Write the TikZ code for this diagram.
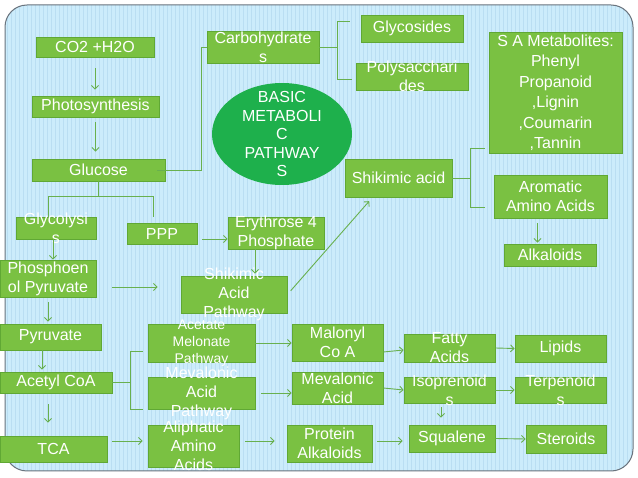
\documentclass[tikz,border=0pt]{standalone}
\usepackage{fontspec}
\setmainfont{Liberation Sans}
\usetikzlibrary{arrows.meta,shapes.geometric}

\definecolor{boxgreen}{RGB}{122,193,66}
\definecolor{boxedge}{RGB}{96,168,52}
\definecolor{ovalgreen}{RGB}{30,176,76}
\definecolor{linkgreen}{RGB}{104,176,78}
\definecolor{skyblue}{RGB}{204,236,251}
\definecolor{stripeblue}{RGB}{186,222,242}
\definecolor{rimgray}{RGB}{105,115,125}

\begin{document}
\begin{tikzpicture}[x=1pt,y=-1pt,
    box/.style={draw=boxedge,fill=boxgreen,line width=0.8pt,inner sep=0pt},
    lbl/.style={text=white,align=center,inner sep=0pt,font=\fontsize{16}{19}\selectfont},
    link/.style={draw=linkgreen,line width=0.9pt},
    arr/.style={link,-{Straight Barb[length=3.5pt,width=7pt]}}]
    \useasboundingbox (0,0) rectangle (638,478);
    \fill[white] (0,0) rectangle (638,478);
    \begin{scope}
        \clip[rounded corners=22pt] (5,5) rectangle (633,471);
        \fill[skyblue] (0,0) rectangle (638,478);
        \foreach \sx in {7,11,...,631}
            \draw[stripeblue,line width=1pt] (\sx,5) -- (\sx,471);
    \end{scope}
    \draw[rimgray,line width=1pt,rounded corners=22pt] (5,5) rectangle (633,471);
    %%
    \node[box,minimum width=118,minimum height=20,label={[lbl]center:CO2 +H2O}] (co2) at (95,47) {};
    \node[box,minimum width=127,minimum height=21,label={[lbl]center:Photosynthesis}] (photo) at (95.5,106.5) {};
    \node[box,minimum width=133,minimum height=22,label={[lbl]center:Glucose}] (glucose) at (98.5,170) {};
    \node[box,minimum width=112,minimum height=32,label={[lbl]center:Carbohydrate\\s}] (carb) at (263,47) {};
    \node[box,minimum width=102,minimum height=27,label={[lbl]center:Glycosides}] (glyco) at (412,28.5) {};
    \node[box,minimum width=112,minimum height=27,label={[lbl]center:Polysacchari\\des}] (poly) at (412,76.5) {};
    \node[ellipse,fill=ovalgreen,inner sep=0pt,minimum width=140,minimum height=102,
        label={[lbl,font=\fontsize{16}{18.5}\selectfont]center:BASIC\\METABOLI\\C\\PATHWAY\\S}] (basic) at (282,134) {};
    \node[box,minimum width=133,minimum height=121,
        label={[lbl,font=\fontsize{16}{20.5}\selectfont]center:S A Metabolites:\\Phenyl\\Propanoid\\,Lignin\\,Coumarin\\,Tannin}] (sam) at (555.5,92.5) {};
    \node[box,minimum width=107,minimum height=38,label={[lbl]center:Shikimic acid}] (shik) at (398.5,178) {};
    \node[box,minimum width=113,minimum height=43,label={[lbl]center:Aromatic\\Amino Acids}] (arom) at (550.5,196.5) {};
    \node[box,minimum width=92,minimum height=22,label={[lbl]center:Alkaloids}] (alka) at (550,255) {};
    %%
    \node[box,minimum width=80,minimum height=22,label={[lbl]center:Glycolysi\\s}] (glyc) at (56,228) {};
    \node[box,minimum width=70,minimum height=21,label={[lbl]center:PPP}] (ppp) at (162,233.5) {};
    \node[box,minimum width=96,minimum height=32,label={[lbl]center:Erythrose 4\\Phosphate}] (ery) at (276,233) {};
    \node[box,minimum width=96,minimum height=37,label={[lbl]center:Phosphoen\\ol Pyruvate}] (pep) at (48,278.5) {};
    \node[box,minimum width=106,minimum height=37,label={[lbl]center:Shikimic\\Acid\\Pathway}] (sap) at (234,294.5) {};
    \node[box,minimum width=101,minimum height=26,label={[lbl]center:Pyruvate}] (pyr) at (50.5,337) {};
    \node[box,minimum width=112,minimum height=21,label={[lbl]center:Acetyl CoA}] (acetyl) at (56,382.5) {};
    \node[box,minimum width=107,minimum height=26,label={[lbl]center:TCA}] (tca) at (53.5,449) {};
    %%
    \node[box,minimum width=107,minimum height=38,
        label={[lbl,font=\fontsize{14}{17}\selectfont]center:Acetate\\Melonate\\Pathway}] (amp) at (201.5,343) {};
    \node[box,minimum width=107,minimum height=32,label={[lbl]center:Mevalonic\\Acid\\Pathway}] (map) at (201.5,393) {};
    \node[box,minimum width=91,minimum height=42,label={[lbl]center:Aliphatic\\Amino\\Acids}] (aliph) at (193.5,446) {};
    \node[box,minimum width=91,minimum height=37,label={[lbl]center:Malonyl\\Co A}] (malonyl) at (337.5,342.5) {};
    \node[box,minimum width=91,minimum height=32,label={[lbl]center:Mevalonic\\Acid}] (mev) at (337.5,388) {};
    \node[box,minimum width=85,minimum height=37,label={[lbl]center:Protein\\Alkaloids}] (prot) at (329.5,443.5) {};
    \node[box,minimum width=91,minimum height=28,label={[lbl]center:Fatty\\Acids}] (fatty) at (449.5,348) {};
    \node[box,minimum width=91,minimum height=26,label={[lbl]center:Isoprenoid\\s}] (isop) at (449.5,390) {};
    \node[box,minimum width=86,minimum height=27,label={[lbl]center:Squalene}] (squal) at (452,438.5) {};
    \node[box,minimum width=91,minimum height=27,label={[lbl]center:Lipids}] (lipids) at (560.5,348.5) {};
    \node[box,minimum width=91,minimum height=26,label={[lbl]center:Terpenoid\\s}] (terp) at (560.5,390) {};
    \node[box,minimum width=80,minimum height=28,label={[lbl]center:Steroids}] (steroids) at (566,439) {};
    %%
    \draw[arr,shorten <=11pt,shorten >=6pt] (co2.south) -- (co2.south |- photo.north);
    \draw[arr,shorten <=5pt,shorten >=7pt] (photo.south) -- (photo.south |- glucose.north);
    \draw[link] ([xshift=-8pt]glucose.east) -| ([xshift=-5pt]carb.west) -- (carb.west);
    \draw[link] (carb.east) -- ++(18,0) coordinate (carbfork);
    \draw[link] ([xshift=-11pt,yshift=7.5pt]glyco.west) -| (carbfork) |- ([xshift=-4pt,yshift=-2.5pt]poly.west);
    \draw[link] (shik.east) -- ++(18,0) coordinate (shikfork);
    \draw[link] ([xshift=-4pt,yshift=5pt]sam.south west) -| (shikfork) |- ([xshift=-9pt,yshift=-10.5pt]arom.west);
    \draw[arr,shorten <=5pt,shorten >=1pt] ([xshift=-13pt]arom.south) -- ([xshift=-13pt]arom.south |- alka.north);
    %%
    \draw[link] (glucose.south) -- ++(0,15) coordinate (glufork);
    \draw[link] ([xshift=-8pt]glyc.north) |- (glufork) -| ([xshift=-9pt,yshift=6pt]ppp.north);
    \draw[arr] ([xshift=-3pt]glyc.south) -- ([xshift=-3pt]glyc.south |- pep.north);
    \draw[arr,shorten <=5pt] ([yshift=-5.5pt]ppp.east) -- ([yshift=-5.5pt]ppp.east -| ery.west);
    \draw[arr,shorten >=2pt] ([xshift=-21pt]ery.south) -- ([xshift=-21pt]ery.south |- sap.north);
    \draw[arr,shorten <=16pt,shorten >=23pt] ([yshift=-8.5pt]pep.east) -- ([yshift=-8.5pt]pep.east -| sap.west);
    \draw[arr,shorten <=5pt,shorten >=5pt] (sap.east) -- ([xshift=-26pt]shik.south);
    \draw[arr,shorten <=5pt,shorten >=2pt] (pep.south) -- (pep.south |- pyr.north);
    \draw[arr,shorten >=2pt] ([xshift=-8.5pt]pyr.south) -- ([xshift=-8.5pt]pyr.south |- acetyl.north);
    \draw[arr,shorten <=11pt,shorten >=13pt] ([xshift=-8pt]acetyl.south) -- ([xshift=-8pt]acetyl.south |- tca.north);
    \draw[link] (acetyl.east) -- ++(18,0) coordinate (acefork);
    \draw[link] ([xshift=-5pt,yshift=-8pt]amp.west) -| (acefork) |- ([xshift=-5pt]map.south west);
    \draw[arr,shorten <=5pt,shorten >=5pt] ([yshift=8pt]tca.east) -- ([yshift=8pt]tca.east -| aliph.west);
    %%
    \draw[arr] (amp.east) -- (amp.east -| malonyl.west);
    \draw[arr,shorten <=6pt] (map.east) -- (map.east -| mev.west);
    \draw[arr,shorten <=6pt,shorten >=12pt] ([yshift=5pt]aliph.east) -- ([yshift=5pt]aliph.east -| prot.west);
    \draw[arr] ([yshift=-9.5pt]malonyl.east) -- ([yshift=-2pt]fatty.west);
    \draw[arr] (mev.east) -- (isop.west);
    \draw[arr,shorten <=4pt,shorten >=7pt] ([xshift=-8.5pt]isop.south) -- ([xshift=-8.5pt]isop.south |- squal.north);
    \draw[arr,shorten <=5pt,shorten >=6pt] ([yshift=2.5pt]prot.east) -- ([yshift=2.5pt]prot.east -| squal.west);
    \draw[arr] (fatty.east) -- (lipids.west);
    \draw[arr] (isop.east) -- (terp.west);
    \draw[arr] (squal.east) -- (steroids.west);
\end{tikzpicture}
\end{document}
